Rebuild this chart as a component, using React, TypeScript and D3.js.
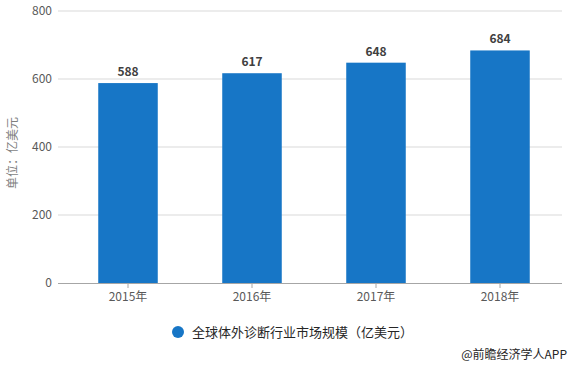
import {useEffect, useRef} from "react"
import * as d3 from "d3"

const years = ["2015年", "2016年", "2017年", "2018年"]
const marketSize = [588, 617, 648, 684]
const yTicks = [0, 200, 400, 600, 800]
const seriesName = "全球体外诊断行业市场规模（亿美元）"
const unitLabel = "单位：亿美元"
const sourceLabel = "@前瞻经济学人APP"

const W = 573
const H = 367
const margin = {left: 66, right: 11, top: 11, bottom: 84}
const font = "'Microsoft YaHei', 'Noto Sans CJK SC', sans-serif"
const barColor = "#1776c6"

const App = () => {
  const ref = useRef<SVGSVGElement>(null)

  useEffect(() => {
    const svg = d3.select(ref.current)
    svg.selectAll("*").remove()

    const x = d3
      .scaleBand()
      .domain(years)
      .range([margin.left, W - margin.right])
      .paddingInner(0.52)
      .paddingOuter(0.26)
    const y = d3
      .scaleLinear()
      .domain([0, 800])
      .range([H - margin.bottom, margin.top])

    // gridlines
    svg
      .append("g")
      .selectAll("line")
      .data(yTicks.filter((t) => t > 0))
      .join("line")
      .attr("x1", 58)
      .attr("x2", W - margin.right)
      .attr("y1", (d) => y(d))
      .attr("y2", (d) => y(d))
      .attr("stroke", "#d9d9d9")

    // y tick labels
    svg
      .append("g")
      .selectAll("text")
      .data(yTicks)
      .join("text")
      .attr("x", 52)
      .attr("y", (d) => y(d))
      .attr("dy", "0.35em")
      .attr("text-anchor", "end")
      .attr("font-size", 12)
      .attr("font-family", font)
      .attr("fill", "#595959")
      .text((d) => d)

    // y title
    svg
      .append("text")
      .attr("transform", `translate(17,${(y(0) + y(800)) / 2 + 6}) rotate(-90)`)
      .attr("text-anchor", "middle")
      .attr("font-size", 12)
      .attr("font-family", font)
      .attr("fill", "#7f7f7f")
      .text(unitLabel)

    // bars
    svg
      .append("g")
      .selectAll("rect")
      .data(marketSize)
      .join("rect")
      .attr("x", (_, i) => x(years[i])!)
      .attr("y", (d) => y(d))
      .attr("width", x.bandwidth())
      .attr("height", (d) => y(0) - y(d))
      .attr("fill", barColor)

    // value labels
    svg
      .append("g")
      .selectAll("text")
      .data(marketSize)
      .join("text")
      .attr("x", (_, i) => x(years[i])! + x.bandwidth() / 2)
      .attr("y", (d) => y(d) - 7)
      .attr("text-anchor", "middle")
      .attr("font-size", 12)
      .attr("font-weight", "bold")
      .attr("font-family", font)
      .attr("fill", "#404040")
      .text((d) => d)

    // x axis
    const xAxis = svg
      .append("g")
      .attr("transform", `translate(0,${y(0)})`)
      .call(d3.axisBottom(x).tickSize(5).tickSizeOuter(0).tickPadding(4))
    xAxis.select(".domain").attr("stroke", "#a6a6a6").attr("d", `M58,0.5H${W - margin.right}`)
    xAxis.selectAll(".tick line").attr("stroke", "#a6a6a6")
    xAxis
      .selectAll(".tick text")
      .attr("font-size", 12)
      .attr("font-family", font)
      .attr("fill", "#595959")

    // legend
    svg
      .append("circle")
      .attr("cx", 178)
      .attr("cy", 332)
      .attr("r", 6)
      .attr("fill", barColor)
    svg
      .append("text")
      .attr("x", 192)
      .attr("y", 332)
      .attr("dy", "0.35em")
      .attr("font-size", 13)
      .attr("font-family", font)
      .attr("fill", "#262626")
      .text(seriesName)

    svg
      .append("text")
      .attr("x", 567)
      .attr("y", 355)
      .attr("dy", "0.35em")
      .attr("text-anchor", "end")
      .attr("font-size", 12)
      .attr("font-family", font)
      .attr("fill", "#262626")
      .text(sourceLabel)
  }, [])

  return (
    <svg
      ref={ref}
      width={W}
      height={H}
      style={{position: "absolute", left: 0, top: 0, background: "#fff"}}
    />
  )
}

export default App
